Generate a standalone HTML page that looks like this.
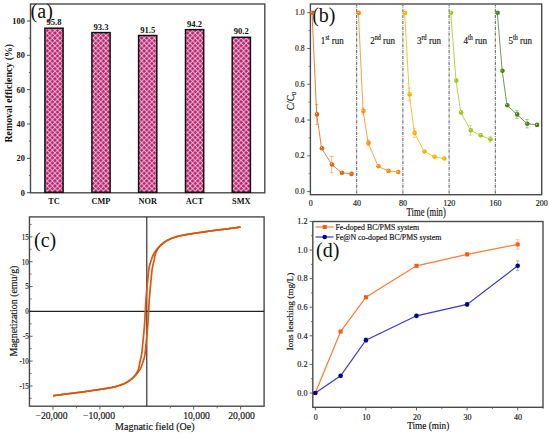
<!DOCTYPE html>
<html><head><meta charset="utf-8"><style>
html,body{margin:0;padding:0;background:#fff;}
svg{display:block;}
text{font-family:"Liberation Serif", serif;fill:#111;font-variant-ligatures:none;}
</style></head><body>
<svg width="550" height="437" viewBox="0 0 550 437">
<defs>
<pattern id="hatch" patternUnits="userSpaceOnUse" width="5.1" height="5.1" x="1.4" y="2.4">
<rect width="5.1" height="5.1" fill="#B8226C"/>
<path d="M0 0L5.1 5.1M5.1 0L0 5.1" stroke="#F3C6DE" stroke-width="0.85"/>
</pattern>
<radialGradient id="gDC640A" cx="0.38" cy="0.36" r="0.7"><stop offset="0" stop-color="#fff" stop-opacity="0.9"/><stop offset="0.25" stop-color="#DC640A"/><stop offset="1" stop-color="#DC640A"/></radialGradient><radialGradient id="gF98C14" cx="0.38" cy="0.36" r="0.7"><stop offset="0" stop-color="#fff" stop-opacity="0.9"/><stop offset="0.25" stop-color="#F98C14"/><stop offset="1" stop-color="#F98C14"/></radialGradient><radialGradient id="gF7B300" cx="0.38" cy="0.36" r="0.7"><stop offset="0" stop-color="#fff" stop-opacity="0.9"/><stop offset="0.25" stop-color="#F7B300"/><stop offset="1" stop-color="#F7B300"/></radialGradient><radialGradient id="gA2C51C" cx="0.38" cy="0.36" r="0.7"><stop offset="0" stop-color="#fff" stop-opacity="0.9"/><stop offset="0.25" stop-color="#A2C51C"/><stop offset="1" stop-color="#A2C51C"/></radialGradient><radialGradient id="g4E821E" cx="0.38" cy="0.36" r="0.7"><stop offset="0" stop-color="#fff" stop-opacity="0.9"/><stop offset="0.25" stop-color="#4E821E"/><stop offset="1" stop-color="#4E821E"/></radialGradient>
</defs>
<rect width="550" height="437" fill="#fff"/>
<rect x="30.5" y="4.0" width="234.3" height="188.8" fill="none" stroke="#4a4a4a" stroke-width="1.4"/>
<line x1="27" y1="192.7" x2="30.5" y2="192.7" stroke="#505050" stroke-width="1"/>
<text x="24.8" y="195.6" font-size="8.3" font-weight="bold" text-anchor="end">0</text>
<line x1="27" y1="158.35" x2="30.5" y2="158.35" stroke="#505050" stroke-width="1"/>
<text x="24.8" y="161.25" font-size="8.3" font-weight="bold" text-anchor="end">20</text>
<line x1="27" y1="124" x2="30.5" y2="124" stroke="#505050" stroke-width="1"/>
<text x="24.8" y="126.9" font-size="8.3" font-weight="bold" text-anchor="end">40</text>
<line x1="27" y1="89.65" x2="30.5" y2="89.65" stroke="#505050" stroke-width="1"/>
<text x="24.8" y="92.55" font-size="8.3" font-weight="bold" text-anchor="end">60</text>
<line x1="27" y1="55.3" x2="30.5" y2="55.3" stroke="#505050" stroke-width="1"/>
<text x="24.8" y="58.2" font-size="8.3" font-weight="bold" text-anchor="end">80</text>
<line x1="27" y1="20.95" x2="30.5" y2="20.95" stroke="#505050" stroke-width="1"/>
<text x="24.8" y="23.85" font-size="8.3" font-weight="bold" text-anchor="end">100</text>
<line x1="28.8" y1="175.52" x2="30.5" y2="175.52" stroke="#505050" stroke-width="0.9"/>
<line x1="28.8" y1="141.17" x2="30.5" y2="141.17" stroke="#505050" stroke-width="0.9"/>
<line x1="28.8" y1="106.82" x2="30.5" y2="106.82" stroke="#505050" stroke-width="0.9"/>
<line x1="28.8" y1="72.47" x2="30.5" y2="72.47" stroke="#505050" stroke-width="0.9"/>
<line x1="28.8" y1="38.12" x2="30.5" y2="38.12" stroke="#505050" stroke-width="0.9"/>
<rect x="44.9" y="28.2" width="18.2" height="164.1" fill="url(#hatch)" stroke="#111" stroke-width="1.5"/>
<text x="54" y="25.2" font-size="8.6" font-weight="bold" text-anchor="middle">95.8</text>
<text x="54" y="203.9" font-size="8.3" font-weight="bold" text-anchor="middle">TC</text>
<rect x="91.9" y="32.6" width="18.2" height="159.7" fill="url(#hatch)" stroke="#111" stroke-width="1.5"/>
<text x="101" y="29.6" font-size="8.6" font-weight="bold" text-anchor="middle">93.3</text>
<text x="101" y="203.9" font-size="8.3" font-weight="bold" text-anchor="middle">CMP</text>
<rect x="138.6" y="35.5" width="18.2" height="156.8" fill="url(#hatch)" stroke="#111" stroke-width="1.5"/>
<text x="147.7" y="32.5" font-size="8.6" font-weight="bold" text-anchor="middle">91.5</text>
<text x="147.7" y="203.9" font-size="8.3" font-weight="bold" text-anchor="middle">NOR</text>
<rect x="185.5" y="29.65" width="18.2" height="162.65" fill="url(#hatch)" stroke="#111" stroke-width="1.5"/>
<text x="194.6" y="26.65" font-size="8.6" font-weight="bold" text-anchor="middle">94.2</text>
<text x="194.6" y="203.9" font-size="8.3" font-weight="bold" text-anchor="middle">ACT</text>
<rect x="232.2" y="37.3" width="18.2" height="155" fill="url(#hatch)" stroke="#111" stroke-width="1.5"/>
<text x="241.3" y="34.3" font-size="8.6" font-weight="bold" text-anchor="middle">90.2</text>
<text x="241.3" y="203.9" font-size="8.3" font-weight="bold" text-anchor="middle">SMX</text>
<text transform="translate(11.8,93.2) rotate(-90)" font-size="9.9" font-weight="bold" text-anchor="middle">Removal efficiency (%)</text>
<text x="30.6" y="17.9" font-size="20">(a)</text>
<rect x="310.4" y="4.0" width="231.3" height="190.7" fill="none" stroke="#4a4a4a" stroke-width="1.4"/>
<line x1="307.2" y1="191.6" x2="310.4" y2="191.6" stroke="#505050" stroke-width="0.9"/>
<text stroke="#333" stroke-width="0.18" x="304.6" y="194.2" font-size="7.6" text-anchor="end" fill="#333">0.0</text>
<line x1="308.6" y1="173.71" x2="310.4" y2="173.71" stroke="#505050" stroke-width="0.8"/>
<line x1="307.2" y1="155.82" x2="310.4" y2="155.82" stroke="#505050" stroke-width="0.9"/>
<text stroke="#333" stroke-width="0.18" x="304.6" y="158.42" font-size="7.6" text-anchor="end" fill="#333">0.2</text>
<line x1="308.6" y1="137.93" x2="310.4" y2="137.93" stroke="#505050" stroke-width="0.8"/>
<line x1="307.2" y1="120.04" x2="310.4" y2="120.04" stroke="#505050" stroke-width="0.9"/>
<text stroke="#333" stroke-width="0.18" x="304.6" y="122.64" font-size="7.6" text-anchor="end" fill="#333">0.4</text>
<line x1="308.6" y1="102.15" x2="310.4" y2="102.15" stroke="#505050" stroke-width="0.8"/>
<line x1="307.2" y1="84.26" x2="310.4" y2="84.26" stroke="#505050" stroke-width="0.9"/>
<text stroke="#333" stroke-width="0.18" x="304.6" y="86.86" font-size="7.6" text-anchor="end" fill="#333">0.6</text>
<line x1="308.6" y1="66.37" x2="310.4" y2="66.37" stroke="#505050" stroke-width="0.8"/>
<line x1="307.2" y1="48.48" x2="310.4" y2="48.48" stroke="#505050" stroke-width="0.9"/>
<text stroke="#333" stroke-width="0.18" x="304.6" y="51.08" font-size="7.6" text-anchor="end" fill="#333">0.8</text>
<line x1="308.6" y1="30.59" x2="310.4" y2="30.59" stroke="#505050" stroke-width="0.8"/>
<line x1="307.2" y1="12.7" x2="310.4" y2="12.7" stroke="#505050" stroke-width="0.9"/>
<text stroke="#333" stroke-width="0.18" x="304.6" y="15.3" font-size="7.6" text-anchor="end" fill="#333">1.0</text>
<text stroke="#333" stroke-width="0.18" x="310.7" y="206.3" font-size="8" text-anchor="middle" fill="#333">0</text>
<text stroke="#333" stroke-width="0.18" x="356.9" y="206.3" font-size="8" text-anchor="middle" fill="#333">40</text>
<text stroke="#333" stroke-width="0.18" x="403.1" y="206.3" font-size="8" text-anchor="middle" fill="#333">80</text>
<text stroke="#333" stroke-width="0.18" x="449.3" y="206.3" font-size="8" text-anchor="middle" fill="#333">120</text>
<text stroke="#333" stroke-width="0.18" x="495.5" y="206.3" font-size="8" text-anchor="middle" fill="#333">160</text>
<text stroke="#333" stroke-width="0.18" x="541.7" y="206.3" font-size="8" text-anchor="middle" fill="#333">200</text>
<line x1="356.7" y1="4.8" x2="356.7" y2="193.89999999999998" stroke="#555" stroke-width="1" stroke-dasharray="3.1 1.05 0.7 1" stroke-dashoffset="1.5"/>
<line x1="402.9" y1="4.8" x2="402.9" y2="193.89999999999998" stroke="#555" stroke-width="1" stroke-dasharray="3.1 1.05 0.7 1" stroke-dashoffset="1.5"/>
<line x1="449.1" y1="4.8" x2="449.1" y2="193.89999999999998" stroke="#555" stroke-width="1" stroke-dasharray="3.1 1.05 0.7 1" stroke-dashoffset="1.5"/>
<line x1="495.3" y1="4.8" x2="495.3" y2="193.89999999999998" stroke="#555" stroke-width="1" stroke-dasharray="3.1 1.05 0.7 1" stroke-dashoffset="1.5"/>
<text stroke="#222" stroke-width="0.18" transform="translate(426.2,215.8) scale(0.75,1)" font-size="11.5" text-anchor="middle" fill="#222">Time (min)</text>
<text stroke="#222" stroke-width="0.18" transform="translate(294.2,101) rotate(-90)" font-size="9.6" text-anchor="middle" fill="#222">C/C<tspan font-size="6.5" dy="2">0</tspan></text>
<text x="312.2" y="21.7" font-size="20">(b)</text>
<text stroke="#222" stroke-width="0.18" x="332.3" y="44.1" font-size="10.6" text-anchor="middle" fill="#222" transform="translate(332.3,0) scale(0.85,1) translate(-332.3,0)">1<tspan font-size="7.2" dy="-3.8">st</tspan><tspan dy="3.8"> run</tspan></text>
<text stroke="#222" stroke-width="0.18" x="382.6" y="44.1" font-size="10.6" text-anchor="middle" fill="#222" transform="translate(382.6,0) scale(0.85,1) translate(-382.6,0)">2<tspan font-size="7.2" dy="-3.8">nd</tspan><tspan dy="3.8"> run</tspan></text>
<text stroke="#222" stroke-width="0.18" x="429" y="44.1" font-size="10.6" text-anchor="middle" fill="#222" transform="translate(429,0) scale(0.85,1) translate(-429,0)">3<tspan font-size="7.2" dy="-3.8">rd</tspan><tspan dy="3.8"> run</tspan></text>
<text stroke="#222" stroke-width="0.18" x="475.3" y="44.1" font-size="10.6" text-anchor="middle" fill="#222" transform="translate(475.3,0) scale(0.85,1) translate(-475.3,0)">4<tspan font-size="7.2" dy="-3.8">th</tspan><tspan dy="3.8"> run</tspan></text>
<text stroke="#222" stroke-width="0.18" x="520.2" y="44.1" font-size="10.6" text-anchor="middle" fill="#222" transform="translate(520.2,0) scale(0.85,1) translate(-520.2,0)">5<tspan font-size="7.2" dy="-3.8">th</tspan><tspan dy="3.8"> run</tspan></text>
<polyline points="312,12.7 316.7,114.4 321.6,148.3 331.7,164.5 341.6,172.7 351.2,173.9" fill="none" stroke="#DC640A" stroke-width="1.0" opacity="0.8"/>
<path d="M316.7 104.4V124.4M314.9 104.4H318.5M314.9 124.4H318.5" stroke="#DC640A" stroke-width="0.8" opacity="0.55" fill="none"/>
<path d="M331.7 156.3V172.7M329.9 156.3H333.5M329.9 172.7H333.5" stroke="#DC640A" stroke-width="0.8" opacity="0.55" fill="none"/>
<circle cx="312.3" cy="12.7" r="2.3" fill="url(#gDC640A)"/>
<circle cx="317" cy="114.4" r="2.3" fill="url(#gDC640A)"/>
<circle cx="321.9" cy="148.3" r="2.3" fill="url(#gDC640A)"/>
<circle cx="332" cy="164.5" r="2.3" fill="url(#gDC640A)"/>
<circle cx="341.9" cy="172.7" r="2.3" fill="url(#gDC640A)"/>
<circle cx="351.5" cy="173.9" r="2.3" fill="url(#gDC640A)"/>
<polyline points="358.4,12.9 363.1,111 368.2,142.9 378.1,166.3 388.2,170.9 398,172" fill="none" stroke="#F98C14" stroke-width="1.0" opacity="0.8"/>
<path d="M363.1 108V114M361.3 108H364.9M361.3 114H364.9" stroke="#F98C14" stroke-width="0.8" opacity="0.55" fill="none"/>
<path d="M368.2 139.9V145.9M366.4 139.9H370M366.4 145.9H370" stroke="#F98C14" stroke-width="0.8" opacity="0.55" fill="none"/>
<circle cx="358.7" cy="12.9" r="2.3" fill="url(#gF98C14)"/>
<circle cx="363.4" cy="111" r="2.3" fill="url(#gF98C14)"/>
<circle cx="368.5" cy="142.9" r="2.3" fill="url(#gF98C14)"/>
<circle cx="378.4" cy="166.3" r="2.3" fill="url(#gF98C14)"/>
<circle cx="388.5" cy="170.9" r="2.3" fill="url(#gF98C14)"/>
<circle cx="398.3" cy="172" r="2.3" fill="url(#gF98C14)"/>
<polyline points="404.7,12.9 409.3,94.4 414.4,132.9 424.2,151.5 434.2,156.8 444,158.5" fill="none" stroke="#F7B300" stroke-width="1.0" opacity="0.8"/>
<path d="M409.3 88V100.8M407.5 88H411.1M407.5 100.8H411.1" stroke="#F7B300" stroke-width="0.8" opacity="0.55" fill="none"/>
<path d="M414.4 128.4V137.4M412.6 128.4H416.2M412.6 137.4H416.2" stroke="#F7B300" stroke-width="0.8" opacity="0.55" fill="none"/>
<circle cx="405" cy="12.9" r="2.3" fill="url(#gF7B300)"/>
<circle cx="409.6" cy="94.4" r="2.3" fill="url(#gF7B300)"/>
<circle cx="414.7" cy="132.9" r="2.3" fill="url(#gF7B300)"/>
<circle cx="424.5" cy="151.5" r="2.3" fill="url(#gF7B300)"/>
<circle cx="434.5" cy="156.8" r="2.3" fill="url(#gF7B300)"/>
<circle cx="444.3" cy="158.5" r="2.3" fill="url(#gF7B300)"/>
<polyline points="450.7,12.7 456,80.6 460.8,112.4 470.5,130.3 480.4,135.2 490.2,139.3" fill="none" stroke="#A2C51C" stroke-width="1.0" opacity="0.8"/>
<path d="M470.5 125.4V135.2M468.7 125.4H472.3M468.7 135.2H472.3" stroke="#A2C51C" stroke-width="0.8" opacity="0.55" fill="none"/>
<path d="M490.2 136.3V142.3M488.4 136.3H492M488.4 142.3H492" stroke="#A2C51C" stroke-width="0.8" opacity="0.55" fill="none"/>
<circle cx="451" cy="12.7" r="2.3" fill="url(#gA2C51C)"/>
<circle cx="456.3" cy="80.6" r="2.3" fill="url(#gA2C51C)"/>
<circle cx="461.1" cy="112.4" r="2.3" fill="url(#gA2C51C)"/>
<circle cx="470.8" cy="130.3" r="2.3" fill="url(#gA2C51C)"/>
<circle cx="480.7" cy="135.2" r="2.3" fill="url(#gA2C51C)"/>
<circle cx="490.5" cy="139.3" r="2.3" fill="url(#gA2C51C)"/>
<polyline points="497.3,12.7 502.2,70.7 507,105.3 516.9,114.4 527,123.7 536.8,124.9" fill="none" stroke="#4E821E" stroke-width="1.0" opacity="0.8"/>
<path d="M516.9 110.4V118.4M515.1 110.4H518.7M515.1 118.4H518.7" stroke="#4E821E" stroke-width="0.8" opacity="0.55" fill="none"/>
<path d="M527 119.5V127.9M525.2 119.5H528.8M525.2 127.9H528.8" stroke="#4E821E" stroke-width="0.8" opacity="0.55" fill="none"/>
<circle cx="497.6" cy="12.7" r="2.3" fill="url(#g4E821E)"/>
<circle cx="502.5" cy="70.7" r="2.3" fill="url(#g4E821E)"/>
<circle cx="507.3" cy="105.3" r="2.3" fill="url(#g4E821E)"/>
<circle cx="517.2" cy="114.4" r="2.3" fill="url(#g4E821E)"/>
<circle cx="527.3" cy="123.7" r="2.3" fill="url(#g4E821E)"/>
<circle cx="537.1" cy="124.9" r="2.3" fill="url(#g4E821E)"/>
<rect x="29.45" y="216.9" width="234.65" height="189.3" fill="none" stroke="#4a4a4a" stroke-width="1.4"/>
<line x1="28.4" y1="385.95" x2="32.6" y2="385.95" stroke="#505050" stroke-width="0.9"/>
<text stroke="#222" stroke-width="0.18" transform="translate(28.7,388.85) scale(0.8,1)" font-size="8.6" text-anchor="end" fill="#222">-15</text>
<line x1="28.4" y1="361.1" x2="32.6" y2="361.1" stroke="#505050" stroke-width="0.9"/>
<text stroke="#222" stroke-width="0.18" transform="translate(28.7,364) scale(0.8,1)" font-size="8.6" text-anchor="end" fill="#222">-10</text>
<line x1="28.4" y1="336.25" x2="32.6" y2="336.25" stroke="#505050" stroke-width="0.9"/>
<text stroke="#222" stroke-width="0.18" transform="translate(28.7,339.15) scale(0.8,1)" font-size="8.6" text-anchor="end" fill="#222">-5</text>
<line x1="28.4" y1="311.4" x2="32.6" y2="311.4" stroke="#505050" stroke-width="0.9"/>
<text stroke="#222" stroke-width="0.18" transform="translate(28.7,314.3) scale(0.8,1)" font-size="8.6" text-anchor="end" fill="#222">0</text>
<line x1="28.4" y1="286.55" x2="32.6" y2="286.55" stroke="#505050" stroke-width="0.9"/>
<text stroke="#222" stroke-width="0.18" transform="translate(28.7,289.45) scale(0.8,1)" font-size="8.6" text-anchor="end" fill="#222">5</text>
<line x1="28.4" y1="261.7" x2="32.6" y2="261.7" stroke="#505050" stroke-width="0.9"/>
<text stroke="#222" stroke-width="0.18" transform="translate(28.7,264.6) scale(0.8,1)" font-size="8.6" text-anchor="end" fill="#222">10</text>
<line x1="28.4" y1="236.85" x2="32.6" y2="236.85" stroke="#505050" stroke-width="0.9"/>
<text stroke="#222" stroke-width="0.18" transform="translate(28.7,239.75) scale(0.8,1)" font-size="8.6" text-anchor="end" fill="#222">15</text>
<line x1="29.45" y1="398.38" x2="31.6" y2="398.38" stroke="#505050" stroke-width="0.8"/>
<line x1="29.45" y1="373.52" x2="31.6" y2="373.52" stroke="#505050" stroke-width="0.8"/>
<line x1="29.45" y1="348.67" x2="31.6" y2="348.67" stroke="#505050" stroke-width="0.8"/>
<line x1="29.45" y1="323.82" x2="31.6" y2="323.82" stroke="#505050" stroke-width="0.8"/>
<line x1="29.45" y1="298.97" x2="31.6" y2="298.97" stroke="#505050" stroke-width="0.8"/>
<line x1="29.45" y1="274.12" x2="31.6" y2="274.12" stroke="#505050" stroke-width="0.8"/>
<line x1="29.45" y1="249.27" x2="31.6" y2="249.27" stroke="#505050" stroke-width="0.8"/>
<line x1="29.45" y1="224.42" x2="31.6" y2="224.42" stroke="#505050" stroke-width="0.8"/>
<line x1="53" y1="406.2" x2="53" y2="409.6" stroke="#505050" stroke-width="0.9"/>
<line x1="99.9" y1="406.2" x2="99.9" y2="409.6" stroke="#505050" stroke-width="0.9"/>
<line x1="193.7" y1="406.2" x2="193.7" y2="409.6" stroke="#505050" stroke-width="0.9"/>
<line x1="240.6" y1="406.2" x2="240.6" y2="409.6" stroke="#505050" stroke-width="0.9"/>
<line x1="76.45" y1="406.2" x2="76.45" y2="408.3" stroke="#505050" stroke-width="0.8"/>
<line x1="123.35" y1="406.2" x2="123.35" y2="408.3" stroke="#505050" stroke-width="0.8"/>
<line x1="170.25" y1="406.2" x2="170.25" y2="408.3" stroke="#505050" stroke-width="0.8"/>
<line x1="217.15" y1="406.2" x2="217.15" y2="408.3" stroke="#505050" stroke-width="0.8"/>
<text stroke="#222" stroke-width="0.18" x="51.5" y="419" font-size="9.7" text-anchor="middle" fill="#222">−20,000</text>
<text stroke="#222" stroke-width="0.18" x="99" y="419" font-size="9.7" text-anchor="middle" fill="#222">−10,000</text>
<text stroke="#222" stroke-width="0.18" x="196.5" y="419" font-size="9.7" text-anchor="middle" fill="#222">10,000</text>
<text stroke="#222" stroke-width="0.18" x="241.5" y="419" font-size="9.7" text-anchor="middle" fill="#222">20,000</text>
<line x1="29.45" y1="311.4" x2="264.1" y2="311.4" stroke="#222" stroke-width="1.1"/>
<line x1="146.8" y1="216.9" x2="146.8" y2="406.2" stroke="#222" stroke-width="1.1"/>
<text stroke="#222" stroke-width="0.18" x="154.8" y="429.9" font-size="10" text-anchor="middle" fill="#222">Magnatic field (Oe)</text>
<text stroke="#222" stroke-width="0.18" transform="translate(16.6,311) rotate(-90)" font-size="9.9" text-anchor="middle" fill="#222">Magnetization (emu/g)</text>
<text x="34" y="246.8" font-size="20">(c)</text>
<polyline points="53.00,395.73 53.69,395.64 54.38,395.55 55.07,395.46 55.75,395.37 56.44,395.28 57.13,395.19 57.82,395.10 58.51,395.01 59.20,394.92 59.89,394.83 60.58,394.74 61.26,394.64 61.95,394.55 62.64,394.46 63.33,394.37 64.02,394.28 64.71,394.19 65.40,394.10 66.08,394.01 66.77,393.92 67.46,393.83 68.15,393.75 68.84,393.66 69.53,393.58 70.22,393.49 70.91,393.41 71.59,393.33 72.28,393.24 72.97,393.16 73.66,393.08 74.35,393.00 75.04,392.92 75.73,392.83 76.41,392.75 77.10,392.67 77.79,392.58 78.48,392.50 79.17,392.41 79.86,392.32 80.55,392.23 81.23,392.14 81.92,392.05 82.61,391.96 83.30,391.86 83.99,391.77 84.68,391.66 85.37,391.56 86.06,391.45 86.74,391.33 87.43,391.23 88.12,391.12 88.81,391.02 89.50,390.92 90.19,390.82 90.88,390.72 91.56,390.62 92.25,390.52 92.94,390.43 93.63,390.33 94.32,390.24 95.01,390.14 95.70,390.04 96.39,389.94 97.07,389.84 97.76,389.74 98.45,389.64 99.14,389.54 99.83,389.44 100.52,389.33 101.21,389.23 101.89,389.13 102.58,389.02 103.27,388.92 103.96,388.81 104.65,388.70 105.34,388.59 106.03,388.47 106.72,388.35 107.40,388.23 108.09,388.11 108.78,387.99 109.47,387.87 110.16,387.74 110.85,387.61 111.54,387.48 112.22,387.34 112.91,387.20 113.60,387.05 114.29,386.90 114.98,386.74 115.67,386.57 116.36,386.39 117.04,386.20 117.73,385.99 118.42,385.78 119.11,385.55 119.80,385.32 120.49,385.08 121.18,384.84 121.87,384.58 122.55,384.31 123.24,384.03 123.93,383.73 124.62,383.41 125.31,383.07 126.00,382.71 126.69,382.32 127.37,381.91 128.06,381.48 128.75,381.04 129.45,380.57 130.14,380.08 130.84,379.57 131.55,379.03 132.26,378.45 132.97,377.84 133.70,377.18 134.43,376.47 135.17,375.71 135.30,375.57 135.43,375.42 135.56,375.28 135.69,375.13 135.83,374.98 135.96,374.83 136.09,374.68 136.23,374.53 136.36,374.37 136.50,374.21 136.63,374.05 136.77,373.88 136.90,373.72 137.04,373.55 137.17,373.38 137.31,373.20 137.45,373.03 137.59,372.85 137.72,372.67 137.86,372.48 138.00,372.29 138.14,372.11 138.28,371.91 138.42,371.72 138.56,371.52 138.71,371.32 138.85,371.11 138.99,370.90 139.13,370.68 139.28,370.46 139.42,370.23 139.57,369.99 139.72,369.75 139.87,369.49 140.01,369.23 140.16,368.97 140.31,368.69 140.47,368.40 140.62,368.11 140.77,367.80 140.93,367.48 141.08,367.12 141.24,366.73 141.41,366.31 141.57,365.86 141.74,365.39 141.90,364.92 142.06,364.43 142.23,363.94 142.38,363.46 142.54,362.99 142.69,362.53 142.84,362.10 142.99,361.68 143.13,361.26 143.27,360.86 143.41,360.46 143.55,360.06 143.68,359.65 143.81,359.23 143.94,358.80 144.07,358.35 144.20,357.88 144.32,357.39 144.44,356.86 144.56,356.30 144.68,355.71 144.80,355.07 144.92,354.38 145.04,353.57 145.16,352.65 145.28,351.64 145.40,350.55 145.52,349.40 145.65,348.20 145.77,346.96 145.89,345.70 146.01,344.43 146.13,343.17 146.25,341.92 146.37,340.71 146.49,339.50 146.61,338.29 146.73,337.08 146.85,335.85 146.97,334.59 147.09,333.31 147.21,331.99 147.33,330.62 147.45,329.21 147.57,327.73 147.70,326.19 147.82,324.58 147.94,322.81 148.06,320.86 148.18,318.80 148.30,316.67 148.42,314.53 148.54,312.42 148.66,310.38 148.78,308.27 148.90,306.13 149.02,304.00 149.14,301.94 149.26,299.99 149.38,298.22 149.50,296.61 149.63,295.07 149.75,293.59 149.87,292.18 149.99,290.81 150.11,289.49 150.23,288.21 150.35,286.95 150.47,285.72 150.59,284.51 150.71,283.30 150.83,282.09 150.95,280.88 151.07,279.63 151.19,278.37 151.31,277.10 151.43,275.84 151.55,274.60 151.68,273.40 151.80,272.25 151.92,271.16 152.04,270.15 152.16,269.23 152.28,268.42 152.40,267.73 152.52,267.09 152.64,266.50 152.76,265.94 152.88,265.41 153.00,264.92 153.12,264.45 153.23,264.00 153.34,263.57 153.45,263.15 153.56,262.74 153.66,262.34 153.76,261.94 153.86,261.54 153.96,261.12 154.06,260.70 154.15,260.27 154.24,259.81 154.32,259.34 154.41,258.86 154.49,258.37 154.56,257.88 154.64,257.41 154.72,256.94 154.79,256.49 154.87,256.07 154.95,255.68 155.04,255.32 155.12,255.00 155.21,254.69 155.30,254.40 155.39,254.11 155.48,253.83 155.57,253.57 155.66,253.31 155.76,253.05 155.85,252.81 155.95,252.57 156.04,252.34 156.14,252.12 156.24,251.90 156.34,251.69 156.43,251.48 156.53,251.28 156.63,251.08 156.73,250.89 156.84,250.69 156.94,250.51 157.04,250.32 157.14,250.13 157.24,249.95 157.35,249.77 157.45,249.60 157.56,249.42 157.66,249.25 157.77,249.08 157.87,248.92 157.98,248.75 158.08,248.59 158.19,248.43 158.30,248.27 158.40,248.12 158.51,247.97 158.62,247.82 158.73,247.67 158.84,247.52 158.95,247.38 159.06,247.23 159.17,247.09 159.80,246.33 160.45,245.63 161.10,244.97 161.76,244.35 162.42,243.78 163.09,243.24 163.77,242.73 164.44,242.24 165.13,241.78 165.81,241.33 166.50,240.90 167.18,240.49 167.87,240.11 168.56,239.74 169.24,239.40 169.93,239.09 170.61,238.79 171.30,238.51 171.99,238.24 172.67,237.98 173.36,237.74 174.04,237.50 174.73,237.27 175.42,237.04 176.10,236.83 176.79,236.62 177.48,236.43 178.16,236.25 178.85,236.08 179.53,235.92 180.22,235.77 180.91,235.62 181.59,235.48 182.28,235.34 182.96,235.21 183.65,235.08 184.34,234.95 185.02,234.83 185.71,234.70 186.40,234.58 187.08,234.46 187.77,234.35 188.45,234.23 189.14,234.12 189.83,234.01 190.51,233.90 191.20,233.79 191.88,233.69 192.57,233.59 193.26,233.48 193.94,233.38 194.63,233.28 195.32,233.18 196.00,233.08 196.69,232.98 197.37,232.88 198.06,232.78 198.75,232.68 199.43,232.59 200.12,232.49 200.80,232.39 201.49,232.30 202.18,232.20 202.86,232.10 203.55,232.01 204.23,231.91 204.92,231.81 205.61,231.71 206.29,231.60 206.98,231.49 207.67,231.38 208.35,231.27 209.04,231.17 209.72,231.06 210.41,230.96 211.10,230.87 211.78,230.77 212.47,230.68 213.15,230.59 213.84,230.50 214.53,230.42 215.21,230.33 215.90,230.24 216.59,230.16 217.27,230.08 217.96,229.99 218.64,229.91 219.33,229.83 220.02,229.75 220.70,229.66 221.39,229.58 222.07,229.50 222.76,229.42 223.45,229.34 224.13,229.25 224.82,229.17 225.51,229.08 226.19,229.00 226.88,228.91 227.56,228.82 228.25,228.73 228.94,228.64 229.62,228.55 230.31,228.46 230.99,228.37 231.68,228.28 232.37,228.19 233.05,228.10 233.74,228.01 234.42,227.92 235.11,227.83 235.80,227.74 236.48,227.65 237.17,227.55 237.86,227.46 238.54,227.37 239.23,227.28 239.91,227.20 240.60,227.11" fill="none" stroke="#D9560C" stroke-width="1.7" stroke-linejoin="round"/>
<polyline points="53.00,395.73 53.69,395.64 54.38,395.55 55.07,395.46 55.75,395.37 56.44,395.28 57.13,395.19 57.82,395.10 58.51,395.01 59.20,394.92 59.89,394.83 60.58,394.74 61.26,394.64 61.95,394.55 62.64,394.46 63.33,394.37 64.02,394.28 64.71,394.19 65.40,394.10 66.08,394.01 66.77,393.92 67.46,393.83 68.15,393.75 68.84,393.66 69.53,393.58 70.22,393.49 70.91,393.41 71.59,393.33 72.28,393.24 72.97,393.16 73.66,393.08 74.35,393.00 75.04,392.92 75.73,392.83 76.41,392.75 77.10,392.67 77.79,392.58 78.48,392.50 79.17,392.41 79.86,392.32 80.55,392.23 81.23,392.14 81.92,392.05 82.61,391.96 83.30,391.86 83.99,391.77 84.68,391.66 85.37,391.56 86.06,391.45 86.74,391.33 87.43,391.23 88.12,391.12 88.81,391.02 89.50,390.92 90.19,390.82 90.88,390.72 91.56,390.62 92.25,390.52 92.94,390.43 93.63,390.33 94.32,390.24 95.01,390.14 95.70,390.04 96.39,389.94 97.07,389.84 97.76,389.74 98.45,389.64 99.14,389.54 99.83,389.44 100.52,389.33 101.21,389.23 101.89,389.13 102.58,389.02 103.27,388.92 103.96,388.81 104.65,388.70 105.34,388.59 106.03,388.47 106.72,388.35 107.40,388.23 108.09,388.11 108.78,387.99 109.47,387.87 110.16,387.74 110.85,387.61 111.54,387.48 112.22,387.34 112.91,387.20 113.60,387.05 114.29,386.90 114.98,386.74 115.67,386.57 116.36,386.39 117.04,386.20 117.73,385.99 118.42,385.78 119.11,385.55 119.80,385.32 120.49,385.08 121.18,384.84 121.87,384.58 122.55,384.31 123.24,384.03 123.93,383.73 124.62,383.41 125.31,383.07 126.00,382.71 126.69,382.32 127.37,381.91 128.06,381.48 128.75,381.04 129.44,380.57 130.12,380.08 130.79,379.57 131.47,379.03 132.13,378.45 132.80,377.84 133.45,377.18 134.10,376.47 134.73,375.71 134.84,375.57 134.95,375.42 135.06,375.28 135.17,375.13 135.28,374.98 135.39,374.83 135.50,374.68 135.60,374.53 135.71,374.37 135.82,374.21 135.92,374.05 136.03,373.88 136.13,373.72 136.24,373.55 136.34,373.38 136.45,373.20 136.55,373.03 136.66,372.85 136.76,372.67 136.86,372.48 136.96,372.29 137.06,372.11 137.17,371.91 137.27,371.72 137.37,371.52 137.47,371.32 137.56,371.11 137.66,370.90 137.76,370.68 137.86,370.46 137.95,370.23 138.05,369.99 138.14,369.75 138.24,369.49 138.33,369.23 138.42,368.97 138.51,368.69 138.60,368.40 138.69,368.11 138.78,367.80 138.86,367.48 138.95,367.12 139.03,366.73 139.11,366.31 139.18,365.86 139.26,365.39 139.34,364.92 139.41,364.43 139.49,363.94 139.58,363.46 139.66,362.99 139.75,362.53 139.84,362.10 139.94,361.68 140.04,361.26 140.14,360.86 140.24,360.46 140.34,360.06 140.45,359.65 140.56,359.23 140.67,358.80 140.78,358.35 140.90,357.88 141.02,357.39 141.14,356.86 141.26,356.30 141.38,355.71 141.50,355.07 141.62,354.38 141.74,353.57 141.86,352.65 141.98,351.64 142.10,350.55 142.22,349.40 142.35,348.20 142.47,346.96 142.59,345.70 142.71,344.43 142.83,343.17 142.95,341.92 143.07,340.71 143.19,339.50 143.31,338.29 143.43,337.08 143.55,335.85 143.67,334.59 143.79,333.31 143.91,331.99 144.03,330.62 144.15,329.21 144.27,327.73 144.40,326.19 144.52,324.58 144.64,322.81 144.76,320.86 144.88,318.80 145.00,316.67 145.12,314.53 145.24,312.42 145.36,310.38 145.48,308.27 145.60,306.13 145.72,304.00 145.84,301.94 145.96,299.99 146.08,298.22 146.20,296.61 146.33,295.07 146.45,293.59 146.57,292.18 146.69,290.81 146.81,289.49 146.93,288.21 147.05,286.95 147.17,285.72 147.29,284.51 147.41,283.30 147.53,282.09 147.65,280.88 147.77,279.63 147.89,278.37 148.01,277.10 148.13,275.84 148.25,274.60 148.38,273.40 148.50,272.25 148.62,271.16 148.74,270.15 148.86,269.23 148.98,268.42 149.10,267.73 149.22,267.09 149.34,266.50 149.46,265.94 149.58,265.41 149.70,264.92 149.83,264.45 149.96,264.00 150.09,263.57 150.22,263.15 150.35,262.74 150.49,262.34 150.63,261.94 150.77,261.54 150.91,261.12 151.06,260.70 151.21,260.27 151.36,259.81 151.52,259.34 151.67,258.86 151.84,258.37 152.00,257.88 152.16,257.41 152.33,256.94 152.49,256.49 152.66,256.07 152.82,255.68 152.97,255.32 153.13,255.00 153.28,254.69 153.43,254.40 153.59,254.11 153.74,253.83 153.89,253.57 154.03,253.31 154.18,253.05 154.33,252.81 154.48,252.57 154.62,252.34 154.77,252.12 154.91,251.90 155.05,251.69 155.19,251.48 155.34,251.28 155.48,251.08 155.62,250.89 155.76,250.69 155.90,250.51 156.04,250.32 156.18,250.13 156.31,249.95 156.45,249.77 156.59,249.60 156.73,249.42 156.86,249.25 157.00,249.08 157.13,248.92 157.27,248.75 157.40,248.59 157.54,248.43 157.67,248.27 157.81,248.12 157.94,247.97 158.07,247.82 158.21,247.67 158.34,247.52 158.47,247.38 158.60,247.23 158.73,247.09 159.47,246.33 160.20,245.63 160.92,244.97 161.63,244.35 162.34,243.78 163.04,243.24 163.74,242.73 164.43,242.24 165.12,241.78 165.81,241.33 166.50,240.90 167.18,240.49 167.87,240.11 168.56,239.74 169.24,239.40 169.93,239.09 170.61,238.79 171.30,238.51 171.99,238.24 172.67,237.98 173.36,237.74 174.04,237.50 174.73,237.27 175.42,237.04 176.10,236.83 176.79,236.62 177.48,236.43 178.16,236.25 178.85,236.08 179.53,235.92 180.22,235.77 180.91,235.62 181.59,235.48 182.28,235.34 182.96,235.21 183.65,235.08 184.34,234.95 185.02,234.83 185.71,234.70 186.40,234.58 187.08,234.46 187.77,234.35 188.45,234.23 189.14,234.12 189.83,234.01 190.51,233.90 191.20,233.79 191.88,233.69 192.57,233.59 193.26,233.48 193.94,233.38 194.63,233.28 195.32,233.18 196.00,233.08 196.69,232.98 197.37,232.88 198.06,232.78 198.75,232.68 199.43,232.59 200.12,232.49 200.80,232.39 201.49,232.30 202.18,232.20 202.86,232.10 203.55,232.01 204.23,231.91 204.92,231.81 205.61,231.71 206.29,231.60 206.98,231.49 207.67,231.38 208.35,231.27 209.04,231.17 209.72,231.06 210.41,230.96 211.10,230.87 211.78,230.77 212.47,230.68 213.15,230.59 213.84,230.50 214.53,230.42 215.21,230.33 215.90,230.24 216.59,230.16 217.27,230.08 217.96,229.99 218.64,229.91 219.33,229.83 220.02,229.75 220.70,229.66 221.39,229.58 222.07,229.50 222.76,229.42 223.45,229.34 224.13,229.25 224.82,229.17 225.51,229.08 226.19,229.00 226.88,228.91 227.56,228.82 228.25,228.73 228.94,228.64 229.62,228.55 230.31,228.46 230.99,228.37 231.68,228.28 232.37,228.19 233.05,228.10 233.74,228.01 234.42,227.92 235.11,227.83 235.80,227.74 236.48,227.65 237.17,227.55 237.86,227.46 238.54,227.37 239.23,227.28 239.91,227.20 240.60,227.11" fill="none" stroke="#D9560C" stroke-width="1.7" stroke-linejoin="round"/>
<rect x="312.8" y="221.5" width="230.2" height="185.8" fill="none" stroke="#4a4a4a" stroke-width="1.4"/>
<line x1="309.6" y1="393" x2="312.8" y2="393" stroke="#505050" stroke-width="0.9"/>
<text stroke="#333" stroke-width="0.18" x="307.5" y="395.75" font-size="8.2" text-anchor="end" fill="#333">0.0</text>
<line x1="311" y1="378.71" x2="312.8" y2="378.71" stroke="#505050" stroke-width="0.8"/>
<line x1="309.6" y1="364.42" x2="312.8" y2="364.42" stroke="#505050" stroke-width="0.9"/>
<text stroke="#333" stroke-width="0.18" x="307.5" y="367.17" font-size="8.2" text-anchor="end" fill="#333">0.2</text>
<line x1="311" y1="350.13" x2="312.8" y2="350.13" stroke="#505050" stroke-width="0.8"/>
<line x1="309.6" y1="335.84" x2="312.8" y2="335.84" stroke="#505050" stroke-width="0.9"/>
<text stroke="#333" stroke-width="0.18" x="307.5" y="338.59" font-size="8.2" text-anchor="end" fill="#333">0.4</text>
<line x1="311" y1="321.55" x2="312.8" y2="321.55" stroke="#505050" stroke-width="0.8"/>
<line x1="309.6" y1="307.26" x2="312.8" y2="307.26" stroke="#505050" stroke-width="0.9"/>
<text stroke="#333" stroke-width="0.18" x="307.5" y="310.01" font-size="8.2" text-anchor="end" fill="#333">0.6</text>
<line x1="311" y1="292.97" x2="312.8" y2="292.97" stroke="#505050" stroke-width="0.8"/>
<line x1="309.6" y1="278.68" x2="312.8" y2="278.68" stroke="#505050" stroke-width="0.9"/>
<text stroke="#333" stroke-width="0.18" x="307.5" y="281.43" font-size="8.2" text-anchor="end" fill="#333">0.8</text>
<line x1="311" y1="264.39" x2="312.8" y2="264.39" stroke="#505050" stroke-width="0.8"/>
<line x1="309.6" y1="250.1" x2="312.8" y2="250.1" stroke="#505050" stroke-width="0.9"/>
<text stroke="#333" stroke-width="0.18" x="307.5" y="252.85" font-size="8.2" text-anchor="end" fill="#333">1.0</text>
<line x1="311" y1="235.81" x2="312.8" y2="235.81" stroke="#505050" stroke-width="0.8"/>
<line x1="309.6" y1="221.52" x2="312.8" y2="221.52" stroke="#505050" stroke-width="0.9"/>
<text stroke="#333" stroke-width="0.18" x="307.5" y="224.27" font-size="8.2" text-anchor="end" fill="#333">1.2</text>
<line x1="315.3" y1="407.3" x2="315.3" y2="410.4" stroke="#505050" stroke-width="0.9"/>
<text stroke="#333" stroke-width="0.18" x="315.7" y="419.8" font-size="8" text-anchor="middle" fill="#333">0</text>
<line x1="365.9" y1="407.3" x2="365.9" y2="410.4" stroke="#505050" stroke-width="0.9"/>
<text stroke="#333" stroke-width="0.18" x="366.3" y="419.8" font-size="8" text-anchor="middle" fill="#333">10</text>
<line x1="416.5" y1="407.3" x2="416.5" y2="410.4" stroke="#505050" stroke-width="0.9"/>
<text stroke="#333" stroke-width="0.18" x="416.9" y="419.8" font-size="8" text-anchor="middle" fill="#333">20</text>
<line x1="467.1" y1="407.3" x2="467.1" y2="410.4" stroke="#505050" stroke-width="0.9"/>
<text stroke="#333" stroke-width="0.18" x="467.5" y="419.8" font-size="8" text-anchor="middle" fill="#333">30</text>
<line x1="517.7" y1="407.3" x2="517.7" y2="410.4" stroke="#505050" stroke-width="0.9"/>
<text stroke="#333" stroke-width="0.18" x="518.1" y="419.8" font-size="8" text-anchor="middle" fill="#333">40</text>
<line x1="340.6" y1="407.3" x2="340.6" y2="409" stroke="#505050" stroke-width="0.8"/>
<line x1="391.2" y1="407.3" x2="391.2" y2="409" stroke="#505050" stroke-width="0.8"/>
<line x1="441.8" y1="407.3" x2="441.8" y2="409" stroke="#505050" stroke-width="0.8"/>
<line x1="492.4" y1="407.3" x2="492.4" y2="409" stroke="#505050" stroke-width="0.8"/>
<line x1="543" y1="407.3" x2="543" y2="409" stroke="#505050" stroke-width="0.8"/>
<text stroke="#222" stroke-width="0.18" transform="translate(428.2,428.8) scale(0.9,1)" font-size="10.3" text-anchor="middle" fill="#222">Time (min)</text>
<text stroke="#222" stroke-width="0.18" transform="translate(293.4,311.5) rotate(-90)" font-size="9.2" text-anchor="middle" fill="#222">Ions leaching (mg/L)</text>
<text x="316" y="256.5" font-size="20">(d)</text>
<polyline points="315.3,393 340.6,331.55 365.9,297.26 416.5,265.82 467.1,254.39 517.7,244.38" fill="none" stroke="#FF7A2E" stroke-width="1.2"/>
<path d="M340.6 330.84V332.27M338.8 330.84H342.4M338.8 332.27H342.4" stroke="#FFB080" stroke-width="0.8" fill="none"/>
<path d="M365.9 295.83V298.69M364.1 295.83H367.7M364.1 298.69H367.7" stroke="#FFB080" stroke-width="0.8" fill="none"/>
<path d="M416.5 264.68V266.96M414.7 264.68H418.3M414.7 266.96H418.3" stroke="#FFB080" stroke-width="0.8" fill="none"/>
<path d="M467.1 252.96V255.82M465.3 252.96H468.9M465.3 255.82H468.9" stroke="#FFB080" stroke-width="0.8" fill="none"/>
<path d="M517.7 239.67V249.1M515.9 239.67H519.5M515.9 249.1H519.5" stroke="#FFB080" stroke-width="0.8" fill="none"/>
<rect x="313.3" y="391" width="4" height="4" fill="#FA5A0A"/>
<rect x="338.6" y="329.55" width="4" height="4" fill="#FA5A0A"/>
<rect x="363.9" y="295.26" width="4" height="4" fill="#FA5A0A"/>
<rect x="414.5" y="263.82" width="4" height="4" fill="#FA5A0A"/>
<rect x="465.1" y="252.39" width="4" height="4" fill="#FA5A0A"/>
<rect x="515.7" y="242.38" width="4" height="4" fill="#FA5A0A"/>
<polyline points="315.3,393 340.6,375.85 365.9,340.13 416.5,315.83 467.1,304.4 517.7,265.82" fill="none" stroke="#3A3AC8" stroke-width="1.2"/>
<path d="M340.6 374.71V377M338.8 374.71H342.4M338.8 377H342.4" stroke="#9A9AE0" stroke-width="0.8" fill="none"/>
<path d="M365.9 337.98V342.27M364.1 337.98H367.7M364.1 342.27H367.7" stroke="#9A9AE0" stroke-width="0.8" fill="none"/>
<path d="M416.5 314.41V317.26M414.7 314.41H418.3M414.7 317.26H418.3" stroke="#9A9AE0" stroke-width="0.8" fill="none"/>
<path d="M467.1 302.69V306.12M465.3 302.69H468.9M465.3 306.12H468.9" stroke="#9A9AE0" stroke-width="0.8" fill="none"/>
<path d="M517.7 260.96V270.68M515.9 260.96H519.5M515.9 270.68H519.5" stroke="#9A9AE0" stroke-width="0.8" fill="none"/>
<circle cx="315.3" cy="393" r="2.3" fill="#00008B"/>
<circle cx="340.6" cy="375.85" r="2.3" fill="#00008B"/>
<circle cx="365.9" cy="340.13" r="2.3" fill="#00008B"/>
<circle cx="416.5" cy="315.83" r="2.3" fill="#00008B"/>
<circle cx="467.1" cy="304.4" r="2.3" fill="#00008B"/>
<circle cx="517.7" cy="265.82" r="2.3" fill="#00008B"/>
<line x1="315.5" y1="227" x2="333.6" y2="227" stroke="#FF7A2E" stroke-width="1.2"/>
<rect x="322.7" y="225" width="4" height="4" fill="#FA5A0A"/>
<line x1="315.5" y1="237" x2="333.6" y2="237" stroke="#3A3AC8" stroke-width="1.2"/>
<circle cx="324.7" cy="237" r="2.3" fill="#00008B"/>
<text stroke="#222" stroke-width="0.18" x="335.4" y="230.2" font-size="7.85" fill="#222">Fe-doped BC/PMS system</text>
<text stroke="#222" stroke-width="0.18" x="335.4" y="239.6" font-size="7.85" fill="#222">Fe@N co-doped BC/PMS system</text>
</svg>
</body></html>
